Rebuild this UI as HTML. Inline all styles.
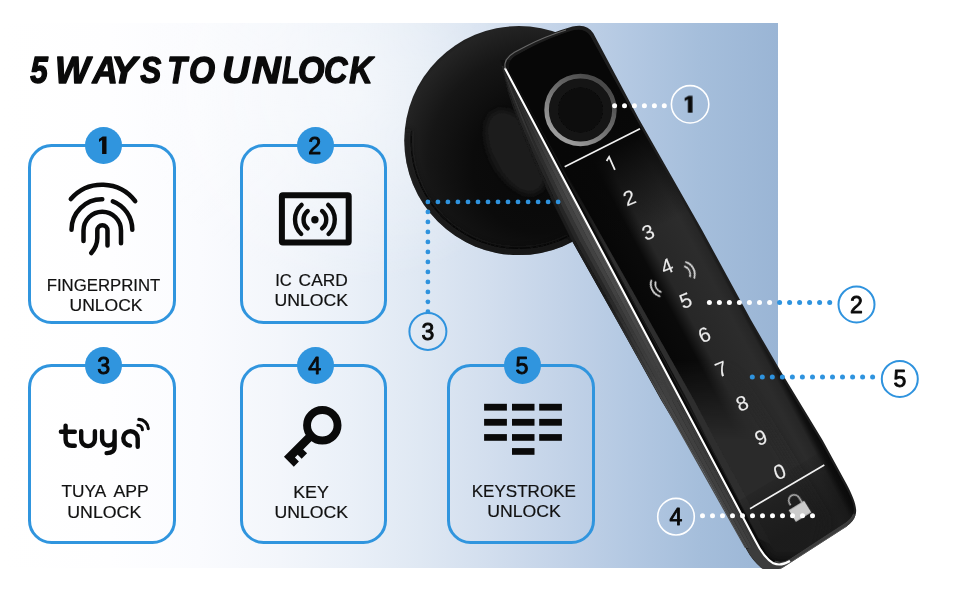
<!DOCTYPE html>
<html>
<head>
<meta charset="utf-8">
<title>5 Ways to Unlock</title>
<style>
html,body{margin:0;padding:0;background:#fff;}
body{width:970px;height:600px;position:relative;overflow:hidden;font-family:"Liberation Sans",sans-serif;}
#bg{position:absolute;left:0;top:23px;width:778px;height:545.4px;
  background:radial-gradient(ellipse 210px 190px at 350px 70px,rgba(255,255,255,0.5),rgba(255,255,255,0.28) 50%,rgba(255,255,255,0) 100%),linear-gradient(90deg,#ffffff 0px,#fefeff 110px,#fafbfe 200px,#f3f6fb 280px,#eaf0f8 350px,#dfe8f3 420px,#d2deee 490px,#c3d3e8 560px,#b3c8e2 630px,#a5bedb 700px,#9ab5d5 778px);}
#title{position:absolute;left:29px;top:49px;font-weight:bold;font-style:italic;font-size:34px;line-height:40px;color:#0a0a0a;white-space:nowrap;letter-spacing:-0.5px;transform-origin:0 0;}
.card{position:absolute;width:141.8px;height:174.6px;border:3.2px solid #3095de;border-radius:23.5px;box-sizing:content-box;}
.badge{position:absolute;width:36.8px;height:36.8px;border-radius:50%;background:#3095de;color:#0a0a0a;font-weight:bold;font-size:24px;line-height:36.8px;text-align:center;}
.lbl{position:absolute;width:160px;text-align:center;font-size:17.5px;line-height:20px;color:#111;letter-spacing:0.2px;}
#art{position:absolute;left:0;top:0;width:970px;height:600px;}
</style>
</head>
<body>
<div id="bg"></div>

<div class="card" style="left:27.9px;top:143.5px;"></div>
<div class="card" style="left:239.5px;top:143.5px;"></div>
<div class="card" style="left:27.9px;top:363.5px;"></div>
<div class="card" style="left:239.5px;top:363.5px;"></div>
<div class="card" style="left:446.9px;top:363.5px;"></div>

<div class="badge" style="left:85.4px;top:126.9px;"></div>
<div class="badge" style="left:296.8px;top:126.9px;"></div>
<div class="badge" style="left:85.4px;top:346.9px;"></div>
<div class="badge" style="left:296.8px;top:346.9px;"></div>
<div class="badge" style="left:503.8px;top:346.9px;"></div>

<svg id="art" viewBox="0 0 970 600" width="970" height="600">
<defs>
  <radialGradient id="roseG" cx="540" cy="165" r="150" gradientUnits="userSpaceOnUse">
    <stop offset="0" stop-color="#080808"/><stop offset="0.45" stop-color="#0b0b0b"/><stop offset="0.75" stop-color="#161616"/><stop offset="0.95" stop-color="#242424"/><stop offset="1" stop-color="#1c1c1c"/>
  </radialGradient>
  <linearGradient id="sideFade" x1="505" y1="66" x2="570" y2="200" gradientUnits="userSpaceOnUse">
    <stop offset="0" stop-color="#0c0c0c" stop-opacity="0.6"/><stop offset="0.35" stop-color="#0c0c0c" stop-opacity="0.4"/><stop offset="0.8" stop-color="#0c0c0c" stop-opacity="0.1"/><stop offset="1" stop-color="#0c0c0c" stop-opacity="0"/>
  </linearGradient>
  <linearGradient id="faceG" x1="638" y1="320" x2="730.8" y2="270.9" gradientUnits="userSpaceOnUse">
    <stop offset="0" stop-color="#060606"/><stop offset="0.32" stop-color="#0a0a0a"/><stop offset="0.45" stop-color="#272727"/><stop offset="0.8" stop-color="#2c2c2c"/><stop offset="0.9" stop-color="#262626"/><stop offset="0.955" stop-color="#101010"/><stop offset="1" stop-color="#0a0a0a"/>
  </linearGradient>
  <linearGradient id="topFade" x1="560" y1="110" x2="630" y2="242.6" gradientUnits="userSpaceOnUse">
    <stop offset="0" stop-color="#070707" stop-opacity="1"/><stop offset="0.4" stop-color="#070707" stop-opacity="0.95"/><stop offset="1" stop-color="#070707" stop-opacity="0"/>
  </linearGradient>
  <linearGradient id="botFade" x1="770" y1="470" x2="800" y2="527" gradientUnits="userSpaceOnUse">
    <stop offset="0" stop-color="#0a0a0a" stop-opacity="0"/><stop offset="0.5" stop-color="#0a0a0a" stop-opacity="0.3"/><stop offset="1" stop-color="#0a0a0a" stop-opacity="0.45"/>
  </linearGradient>
  <linearGradient id="ringG" x1="560" y1="135" x2="600" y2="84" gradientUnits="userSpaceOnUse">
    <stop offset="0" stop-color="#9c9c9c"/><stop offset="0.5" stop-color="#6e6e6e"/><stop offset="1" stop-color="#4a4a4a"/>
  </linearGradient>
  <filter id="b3" x="-20%" y="-20%" width="140%" height="140%"><feGaussianBlur stdDeviation="3"/></filter>
  <filter id="b6" x="-20%" y="-20%" width="140%" height="140%"><feGaussianBlur stdDeviation="6"/></filter>
  <filter id="b0" x="-20%" y="-20%" width="140%" height="140%"><feGaussianBlur stdDeviation="0.35"/></filter>
  <filter id="b1" x="-20%" y="-20%" width="140%" height="140%"><feGaussianBlur stdDeviation="0.6"/></filter>
  <linearGradient id="lowMaskG" x1="0" y1="295" x2="0" y2="395" gradientUnits="userSpaceOnUse"><stop offset="0" stop-color="#000"/><stop offset="1" stop-color="#fff"/></linearGradient>
  <mask id="lowMask" maskUnits="userSpaceOnUse" x="540" y="280" width="260" height="300"><rect x="540" y="280" width="260" height="300" fill="url(#lowMaskG)"/></mask>
  <linearGradient id="lowFaceG" x1="0" y1="360" x2="0" y2="440" gradientUnits="userSpaceOnUse"><stop offset="0" stop-color="#000"/><stop offset="1" stop-color="#fff"/></linearGradient>
  <mask id="lowFaceMask" maskUnits="userSpaceOnUse" x="600" y="300" width="300" height="300"><rect x="600" y="300" width="300" height="300" fill="url(#lowFaceG)"/></mask>
  <clipPath id="roseClip"><circle cx="518.8" cy="140.6" r="114.5"/></clipPath>
  <clipPath id="faceClip"><path id="facePath" d="M509.5 72 C507.5 63 511 58.5 517 55 L529 48.5 Q549 37.5 572.5 30.3 Q585 27 590.5 36 L636.5 119.5 L700 231 L749 321 L778 371 L820.5 441 L845 486 C852 499 855.5 508 853 513.5 C851.5 517.5 849 520 845.5 522.5 L790 558.5 Q781 564 772 559 Q765.5 554 761.7 543.3 L723.3 470 L558 160 Z"/></clipPath>
  <clipPath id="clipbox"><rect x="0" y="23" width="970" height="545.4"/></clipPath>
</defs>
<!--ICONS-->
<!-- title -->
<g opacity="0.999" font-family="Liberation Sans, sans-serif" font-weight="bold" font-style="italic" font-size="36.9" fill="#0a0a0a" stroke="#0a0a0a" stroke-width="1.4" stroke-linejoin="round">
  <text transform="translate(30.29 83.20) scale(0.8548 1)">5</text>
  <text transform="translate(54.89 83.20) scale(1.0012 1)">W</text>
  <text transform="translate(92.38 83.20) scale(0.9488 1)">A</text>
  <text transform="translate(111.30 83.20) scale(1.0433 1)">Y</text>
  <text transform="translate(140.21 83.20) scale(0.8537 1)">S</text>
  <text transform="translate(167.24 83.20) scale(0.8695 1)">T</text>
  <text transform="translate(189.00 83.20) scale(0.9065 1)">O</text>
  <text transform="translate(222.33 83.20) scale(1.0202 1)">U</text>
  <text transform="translate(252.06 83.20) scale(1.0774 1)">N</text>
  <text transform="translate(282.24 83.20) scale(0.7620 1)">L</text>
  <text transform="translate(297.89 83.20) scale(0.9210 1)">O</text>
  <text transform="translate(324.03 83.20) scale(0.8809 1)">C</text>
  <text transform="translate(349.25 83.20) scale(0.8808 1)">K</text>
</g>

<!-- labels -->
<g opacity="0.999" font-family="Liberation Sans, sans-serif" font-size="17.3" fill="#111" stroke="#111" stroke-width="0.2" lengthAdjust="spacingAndGlyphs">
  <text x="46.7" y="290.7" textLength="113.6" lengthAdjust="spacingAndGlyphs">FINGERPRINT</text>
  <text x="69.5" y="310.6" textLength="73" lengthAdjust="spacingAndGlyphs">UNLOCK</text>
  <text x="275.2" y="285.8" textLength="16.6" lengthAdjust="spacingAndGlyphs">IC</text>
  <text x="298.6" y="285.8" textLength="49.2" lengthAdjust="spacingAndGlyphs">CARD</text>
  <text x="274.5" y="305.6" textLength="73.6" lengthAdjust="spacingAndGlyphs">UNLOCK</text>
  <text x="61.6" y="497.2" textLength="44.6" lengthAdjust="spacingAndGlyphs">TUYA</text>
  <text x="113.5" y="497.2" textLength="35.3" lengthAdjust="spacingAndGlyphs">APP</text>
  <text x="67.3" y="517.8" textLength="74" lengthAdjust="spacingAndGlyphs">UNLOCK</text>
  <text x="293.2" y="497.5" textLength="35.6" lengthAdjust="spacingAndGlyphs">KEY</text>
  <text x="274.5" y="517.6" textLength="73.6" lengthAdjust="spacingAndGlyphs">UNLOCK</text>
  <text x="471.7" y="496.9" textLength="104.2" lengthAdjust="spacingAndGlyphs">KEYSTROKE</text>
  <text x="487.2" y="517" textLength="73.6" lengthAdjust="spacingAndGlyphs">UNLOCK</text>
</g>
<!-- fingerprint icon -->
<g fill="none" stroke="#0a0a0a" stroke-width="4.5" stroke-linecap="round" stroke-linejoin="round">
  <path d="M70.8 199 A41.5 41.5 0 0 1 135.2 201.2"/>
  <path d="M71.5 229.8 A30.4 30.4 0 0 1 102.3 199.3"/>
  <path d="M112.8 201.3 A30.4 30.4 0 0 1 132.3 229.8"/>
  <path d="M83.5 241 V230.5 A18.75 18.75 0 0 1 121 230.5 V243.2"/>
  <path d="M91.3 253 Q97.3 246 97.3 238 V230.4 A5.1 5.1 0 0 1 107.5 230.4 V245.5"/>
</g>
<!-- ic card icon -->
<g fill="none" stroke="#0a0a0a">
  <rect x="281.9" y="195.3" width="66.8" height="47.3" rx="1" stroke-width="6"/>
  <circle cx="314.9" cy="219.7" r="3.7" fill="#0a0a0a" stroke="none"/>
  <g stroke-width="4.4" stroke-linecap="round">
    <path d="M307.7 211 A11.2 11.2 0 0 0 307.7 228.4"/>
    <path d="M322.1 211 A11.2 11.2 0 0 1 322.1 228.4"/>
    <path d="M301.6 204.9 A19.8 19.8 0 0 0 301.2 234"/>
    <path d="M328.2 204.9 A19.8 19.8 0 0 1 328.6 234"/>
  </g>
</g>
<!-- tuya logo -->
<g fill="none" stroke="#0a0a0a" stroke-width="4.4" stroke-linecap="round" stroke-linejoin="round">
  <path d="M65.6 425.6 V439.6 Q65.6 445.8 71.8 445.8 H74.8"/>
  <path d="M60.9 431.7 H74.8"/>
  <path d="M81.2 431.2 V439.3 A6.85 6.85 0 0 0 94.9 439.3 V431.2"/>
  <path d="M102.1 431.2 V439.3 A6.25 6.25 0 0 0 114.6 439.3 V431.2 V446.5 Q114.6 453.3 106.6 453.1"/>
  <path d="M130 445.6 A7.2 7.2 0 1 1 137.7 438.4 V446.8"/>
  <path d="M137.9 425.2 A4.6 4.6 0 0 1 142.4 429.8" stroke-width="3.1"/>
  <path d="M138.8 419.4 A9.6 9.6 0 0 1 148.3 428.6" stroke-width="3.1"/>
</g>
<!-- key icon -->
<g transform="translate(322.3 425.3) rotate(135)" fill="#0a0a0a">
  <circle cx="0" cy="0" r="15.25" fill="none" stroke="#0a0a0a" stroke-width="7.9"/>
  <path d="M13 -3.5 H30.6 V-9.1 H38.3 V-3.5 H42.2 V-9.1 H49.4 V4.8 H13 Z"/>
</g>
<!-- keystroke icon -->
<g fill="#0a0a0a">
  <rect x="484.1" y="403.8" width="22.8" height="6.8"/><rect x="512" y="403.8" width="22.5" height="6.8"/><rect x="539.2" y="403.8" width="22.7" height="6.8"/>
  <rect x="484.1" y="418.9" width="22.8" height="6.8"/><rect x="512" y="418.9" width="22.5" height="6.8"/><rect x="539.2" y="418.9" width="22.7" height="6.8"/>
  <rect x="484.1" y="434.1" width="22.8" height="6.7"/><rect x="512" y="434.1" width="22.5" height="6.7"/><rect x="539.2" y="434.1" width="22.7" height="6.7"/>
  <rect x="512" y="448.1" width="22.5" height="6.7"/>
</g>

<!-- badge digits -->
<g opacity="0.999" font-family="Liberation Sans, sans-serif" font-size="23.2" fill="#0a0a0a" stroke="#0a0a0a" stroke-width="0.9" stroke-linejoin="round" text-anchor="middle">
  <path id="one" stroke="none" d="M106.5 136.5 V154 H102.1 V140.1 L99 141.9 V138.9 L102.7 136.5 Z"/>
  <text x="314.8" y="153.7">2</text>
  <text x="103.7" y="373.7">3</text>
  <text x="314.6" y="373.7">4</text>
  <text x="521.9" y="373.7">5</text>
</g>
<!--HANDLE-->
<g clip-path="url(#clipbox)">
<circle cx="518.8" cy="140.6" r="114.5" fill="url(#roseG)"/>
<g clip-path="url(#roseClip)">
<path d="M407.9 130.9 A111.3 111.3 0 0 0 571.1 238.9" fill="none" stroke="#1e1e1e" stroke-width="6" filter="url(#b3)" opacity="0.9"/>
<path d="M411.6 131.2 A107.6 107.6 0 0 0 569.3 235.6" fill="none" stroke="#070707" stroke-width="1.4" filter="url(#b1)" opacity="0.7"/>
</g>
<ellipse cx="516" cy="152" rx="25" ry="46" transform="rotate(-28 516 152)" fill="#1b1b1b" filter="url(#b3)"/>
<path d="M504.5 70 C502.5 60 507.5 55 514 51 L527 44.5 Q548 33.5 572.5 26.6 Q587 23 593.3 33.3 L638.5 118.3 L702 230 L751 320 L780 370 L822.5 440 L846 483 C853 496 858 508 855.5 515 C854 520 851 523 847 526 L782.5 567.5 Q770 575 761.7 568.3 Q752 560 746.7 550 L703.3 470 L661 400 L618.8 324 L571.5 240 L503.75 65.8 Z" fill="#1d1d1d"/>
<g filter="url(#b1)">
<path d="M501.5 66.0 L507.2 90.0 L517.1 120.0 L533.3 160.0 L551.5 200.0 L571.5 240.0 L605.3 300.0 L627.8 340.0 L661.6 400.0 L664.4 400.0 L630.9 340.0 L608.6 300.0 L575.1 240.0 L555.0 200.0 L536.3 160.0 L519.3 120.0 L508.5 90.0 L501.8 66.0 Z" fill="#1a1a1a"/>
<path d="M501.8 66.0 L508.5 90.0 L519.3 120.0 L536.3 160.0 L555.0 200.0 L575.1 240.0 L608.6 300.0 L630.9 340.0 L664.4 400.0 L667.6 400.0 L634.5 340.0 L612.4 300.0 L579.2 240.0 L558.9 200.0 L539.7 160.0 L521.9 120.0 L510.1 90.0 L502.1 66.0 Z" fill="#282828"/>
<path d="M502.1 66.0 L510.1 90.0 L521.9 120.0 L539.7 160.0 L558.9 200.0 L579.2 240.0 L612.4 300.0 L634.5 340.0 L667.6 400.0 L671.0 400.0 L638.2 340.0 L616.4 300.0 L583.6 240.0 L563.0 200.0 L543.3 160.0 L524.6 120.0 L511.7 90.0 L502.5 66.0 Z" fill="#363636"/>
<path d="M502.5 66.0 L511.7 90.0 L524.6 120.0 L543.3 160.0 L563.0 200.0 L583.6 240.0 L616.4 300.0 L638.2 340.0 L671.0 400.0 L674.8 400.0 L642.4 340.0 L620.8 300.0 L588.4 240.0 L567.6 200.0 L547.3 160.0 L527.6 120.0 L513.5 90.0 L502.9 66.0 Z" fill="#424242"/>
<path d="M502.9 66.0 L513.5 90.0 L527.6 120.0 L547.3 160.0 L567.6 200.0 L588.4 240.0 L620.8 300.0 L642.4 340.0 L674.8 400.0 L678.2 400.0 L646.2 340.0 L624.8 300.0 L592.8 240.0 L571.7 200.0 L550.9 160.0 L530.3 120.0 L515.1 90.0 L503.2 66.0 Z" fill="#4c4c4c"/>
<path d="M503.2 66.0 L515.1 90.0 L530.3 120.0 L550.9 160.0 L571.7 200.0 L592.8 240.0 L624.8 300.0 L646.2 340.0 L678.2 400.0 L680.5 400.0 L648.7 340.0 L627.5 300.0 L595.7 240.0 L574.5 200.0 L553.3 160.0 L532.1 120.0 L516.2 90.0 L503.5 66.0 Z" fill="#525252"/>
<g mask="url(#lowMask)">
<path d="M599.6 290.0 L627.8 340.0 L639.1 360.0 L672.8 420.0 L706.6 480.0 L729.1 520.0 L744.9 548.0 L746.3 548.0 L730.6 520.0 L708.2 480.0 L674.7 420.0 L641.1 360.0 L629.9 340.0 L601.9 290.0 Z" fill="#4c4c4c"/>
<path d="M601.9 290.0 L629.9 340.0 L641.1 360.0 L674.7 420.0 L708.2 480.0 L730.6 520.0 L746.3 548.0 L749.1 548.0 L733.6 520.0 L711.5 480.0 L678.3 420.0 L645.1 360.0 L634.1 340.0 L606.4 290.0 Z" fill="#444444"/>
<path d="M606.4 290.0 L634.1 340.0 L645.1 360.0 L678.3 420.0 L711.5 480.0 L733.6 520.0 L749.1 548.0 L752.6 548.0 L737.4 520.0 L715.6 480.0 L682.9 420.0 L650.2 360.0 L639.3 340.0 L612.1 290.0 Z" fill="#404040"/>
<path d="M612.1 290.0 L639.3 340.0 L650.2 360.0 L682.9 420.0 L715.6 480.0 L737.4 520.0 L752.6 548.0 L756.1 548.0 L741.1 520.0 L719.6 480.0 L687.4 420.0 L655.3 360.0 L644.5 340.0 L617.7 290.0 Z" fill="#3e3e3e"/>
<path d="M617.7 290.0 L644.5 340.0 L655.3 360.0 L687.4 420.0 L719.6 480.0 L741.1 520.0 L756.1 548.0 L757.8 548.0 L742.9 520.0 L721.6 480.0 L689.6 420.0 L657.7 360.0 L647.0 340.0 L620.4 290.0 Z" fill="#3c3c3c"/>
<path d="M620.4 290.0 L647.0 340.0 L657.7 360.0 L689.6 420.0 L721.6 480.0 L742.9 520.0 L757.8 548.0 L758.9 548.0 L744.1 520.0 L722.9 480.0 L691.1 420.0 L659.3 360.0 L648.7 340.0 L622.2 290.0 Z" fill="#3a3a3a"/>
</g>
</g>
<path d="M500 60 L573 243 L604 243 L512 60 Z" fill="url(#sideFade)"/>
<path d="M746.7 549 Q752 560 761.7 568.3 Q770 575 782.5 567.5 L847 526 C851 523 854 520 855.5 515 L852.8 513.5 C851.5 517.5 849 520 845.5 522.5 L790 558.5 Q781 564 772 559 Q764 553 760 544 Z" fill="#3c3c3c"/>
<path d="M762 568.5 Q770 575 782.5 567.5 L847 526" fill="none" stroke="#5a5a5a" stroke-width="1"/>
<path d="M507.5 70 L758 541 Q766 557 775 561" fill="none" stroke="#0a0a0a" stroke-width="3"/>
<use href="#facePath" fill="url(#faceG)"/>
<g clip-path="url(#faceClip)">
<path d="M640 330 L705 440 L770 560 L815 560 L825 520 L770 430 L705 330 Z" fill="#2b2b2b" filter="url(#b6)" mask="url(#lowFaceMask)"/>
<path d="M509.8 75 L561.1 170 L687.5 400 L707.7 440 L758 538 L772 545 L715.2 440 L694 400 L564.4 170 L511.8 75 Z" fill="#2d2d2d" filter="url(#b1)"/>
<rect x="480" y="20" width="260" height="260" fill="url(#topFade)"/>
<path d="M740 500 L840 440 L900 540 L780 600 Z" fill="url(#botFade)"/>
</g>
<path d="M504.8 68 L755 540 Q764 558 773.3 563.3 Q781 566.5 790 561" fill="none" stroke="#ffffff" stroke-width="2.1" filter="url(#b0)"/>
<path d="M505 69 C503.5 61 508 56 514.5 52.2 L527 45.7 Q545 36.5 566 30" fill="none" stroke="#707070" stroke-width="1.1" opacity="0.9"/>
<circle cx="580.5" cy="110" r="31.5" fill="#151515"/>
<circle cx="580.5" cy="110" r="22.5" fill="#0a0a0a" filter="url(#b1)"/>
<circle cx="580.5" cy="110" r="33.9" fill="none" stroke="url(#ringG)" stroke-width="4.6" filter="url(#b0)"/>
<path d="M564.7 166.7 L640 128.7" stroke="#f2f2f2" stroke-width="1.6" fill="none"/>
<path d="M750 508.7 L824.3 465" stroke="#f2f2f2" stroke-width="1.6" fill="none"/>
<g font-family="Liberation Sans, sans-serif" font-size="20.6" fill="#ececec" text-anchor="middle" stroke="#ececec" stroke-width="0.12" filter="url(#b0)">
<path transform="translate(611.6 163.4) rotate(-24)" d="M-3.6 -4.2 L0.4 -7 V7.2" fill="none" stroke="#ececec" stroke-width="1.8" stroke-linejoin="miter"/>
<text transform="translate(629.2 197.6) rotate(-22)" y="7.4">2</text>
<text transform="translate(648.0 231.9) rotate(-22)" y="7.4">3</text>
<text transform="translate(666.8 266.1) rotate(-22)" y="7.4">4</text>
<text transform="translate(685.6 300.3) rotate(-22)" y="7.4">5</text>
<text transform="translate(704.4 334.5) rotate(-22)" y="7.4">6</text>
<text transform="translate(721.2 368.8) rotate(-22)" y="7.4">7</text>
<text transform="translate(742.0 403.0) rotate(-22)" y="7.4">8</text>
<text transform="translate(760.8 437.2) rotate(-22)" y="7.4">9</text>
<text transform="translate(779.6 471.5) rotate(-22)" y="7.4">0</text>
</g>
<g fill="none" stroke="#e0e0e0" stroke-width="1.7" stroke-linecap="round" transform="translate(672.8 279.2) rotate(-28)" filter="url(#b0)">
  <path d="M16.6 -5.6 A9 9 0 0 1 16.6 5.6"/><path d="M19.6 -8.8 A12.6 12.6 0 0 1 19.6 8.8"/>
  <path d="M-16.6 -5.6 A9 9 0 0 0 -16.6 5.6"/><path d="M-19.6 -8.8 A12.6 12.6 0 0 0 -19.6 8.8"/>
</g>
<g transform="translate(800 511.3) rotate(-31.5)" filter="url(#b0)">
  <rect x="-9.1" y="-6.8" width="18.2" height="13.6" fill="#cccccc"/>
  <path d="M-4.8 -10.8 V-12.3 A5.6 5.6 0 0 1 6.4 -12.3 V-6.8" fill="none" stroke="#b4b4b4" stroke-width="1.7" stroke-linecap="round"/>
</g>
</g>
<!--CALLOUTS-->
<g>
  <!-- 1 -->
  <g fill="#fff"><circle cx="614.6" cy="105.7" r="2.5"/><circle cx="624.5" cy="105.7" r="2.5"/><circle cx="634.4" cy="105.7" r="2.5"/><circle cx="644.4" cy="105.7" r="2.5"/><circle cx="654.4" cy="105.7" r="2.5"/><circle cx="664.3" cy="105.7" r="2.5"/></g>
  <circle cx="690.1" cy="104.3" r="18.7" fill="none" stroke="#fff" stroke-width="1.6"/>
  <!-- 2 -->
  <g fill="#fff"><circle cx="709.4" cy="302.4" r="2.5"/><circle cx="719.4" cy="302.4" r="2.5"/><circle cx="729.4" cy="302.4" r="2.5"/><circle cx="739.4" cy="302.4" r="2.5"/><circle cx="749.4" cy="302.4" r="2.5"/><circle cx="759.5" cy="302.4" r="2.5"/><circle cx="769.6" cy="302.4" r="2.5"/></g>
  <g fill="#2f93de"><circle cx="779.6" cy="302.4" r="2.5"/><circle cx="789.6" cy="302.4" r="2.5"/><circle cx="799.6" cy="302.4" r="2.5"/><circle cx="809.6" cy="302.4" r="2.5"/><circle cx="819.6" cy="302.4" r="2.5"/><circle cx="829.7" cy="302.4" r="2.5"/></g>
  <circle cx="856.5" cy="304.4" r="18" fill="none" stroke="#2f93de" stroke-width="2"/>
  <!-- 5 -->
  <g fill="#2f93de"><circle cx="752.3" cy="376.9" r="2.5"/><circle cx="762.3" cy="376.9" r="2.5"/><circle cx="772.3" cy="376.9" r="2.5"/><circle cx="782.4" cy="376.9" r="2.5"/><circle cx="792.4" cy="376.9" r="2.5"/><circle cx="802.4" cy="376.9" r="2.5"/><circle cx="812.5" cy="376.9" r="2.5"/><circle cx="822.5" cy="376.9" r="2.5"/><circle cx="832.5" cy="376.9" r="2.5"/><circle cx="842.5" cy="376.9" r="2.5"/><circle cx="852.6" cy="376.9" r="2.5"/><circle cx="862.6" cy="376.9" r="2.5"/><circle cx="872.6" cy="376.9" r="2.5"/></g>
  <circle cx="899.8" cy="378.9" r="18" fill="none" stroke="#2f93de" stroke-width="2"/>
  <!-- 3 -->
  <g fill="#2f93de"><circle cx="427.9" cy="201.9" r="2.4"/><circle cx="437.9" cy="201.9" r="2.4"/><circle cx="447.9" cy="201.9" r="2.4"/><circle cx="457.9" cy="201.9" r="2.4"/><circle cx="468" cy="201.9" r="2.4"/><circle cx="478" cy="201.9" r="2.4"/><circle cx="488" cy="201.9" r="2.4"/><circle cx="498" cy="201.9" r="2.4"/><circle cx="508" cy="201.9" r="2.4"/><circle cx="518" cy="201.9" r="2.4"/><circle cx="528.1" cy="201.9" r="2.4"/><circle cx="538.1" cy="201.9" r="2.4"/><circle cx="548.1" cy="201.9" r="2.4"/><circle cx="558.1" cy="201.9" r="2.4"/>
  <circle cx="427.9" cy="211.9" r="2.4"/><circle cx="427.9" cy="221.9" r="2.4"/><circle cx="427.9" cy="231.9" r="2.4"/><circle cx="427.9" cy="241.9" r="2.4"/><circle cx="427.9" cy="251.9" r="2.4"/><circle cx="427.9" cy="261.9" r="2.4"/><circle cx="427.9" cy="271.9" r="2.4"/><circle cx="427.9" cy="281.9" r="2.4"/><circle cx="427.9" cy="291.9" r="2.4"/><circle cx="427.9" cy="301.8" r="2.4"/><circle cx="427.9" cy="311.7" r="2.4"/></g>
  <circle cx="427.9" cy="331.5" r="18.5" fill="none" stroke="#2f93de" stroke-width="2"/>
  <!-- 4 -->
  <g fill="#fff"><circle cx="702.5" cy="515.7" r="2.5"/><circle cx="712.5" cy="515.7" r="2.5"/><circle cx="722.5" cy="515.7" r="2.5"/><circle cx="732.5" cy="515.7" r="2.5"/><circle cx="742.5" cy="515.7" r="2.5"/><circle cx="752.5" cy="515.7" r="2.5"/><circle cx="762.5" cy="515.7" r="2.5"/><circle cx="772.5" cy="515.7" r="2.5"/><circle cx="782.5" cy="515.7" r="2.5"/><circle cx="792.5" cy="515.7" r="2.5"/><circle cx="802.5" cy="515.7" r="2.5"/><circle cx="812.5" cy="515.7" r="2.5"/></g>
  <circle cx="676" cy="516.7" r="18.3" fill="none" stroke="#fff" stroke-width="1.6"/>
  <g opacity="0.999" font-family="Liberation Sans, sans-serif" font-size="23" fill="#0a0a0a" stroke="#0a0a0a" stroke-width="0.9" stroke-linejoin="round" text-anchor="middle">
    <use href="#one" transform="translate(581.7 -36.06) scale(1.04 0.966)"/>
    <text x="856.5" y="312.8">2</text>
    <text x="899.8" y="387.3">5</text>
    <text x="427.9" y="339.9">3</text>
    <text x="676" y="525">4</text>
  </g>
</g>

</svg>
</body>
</html>
